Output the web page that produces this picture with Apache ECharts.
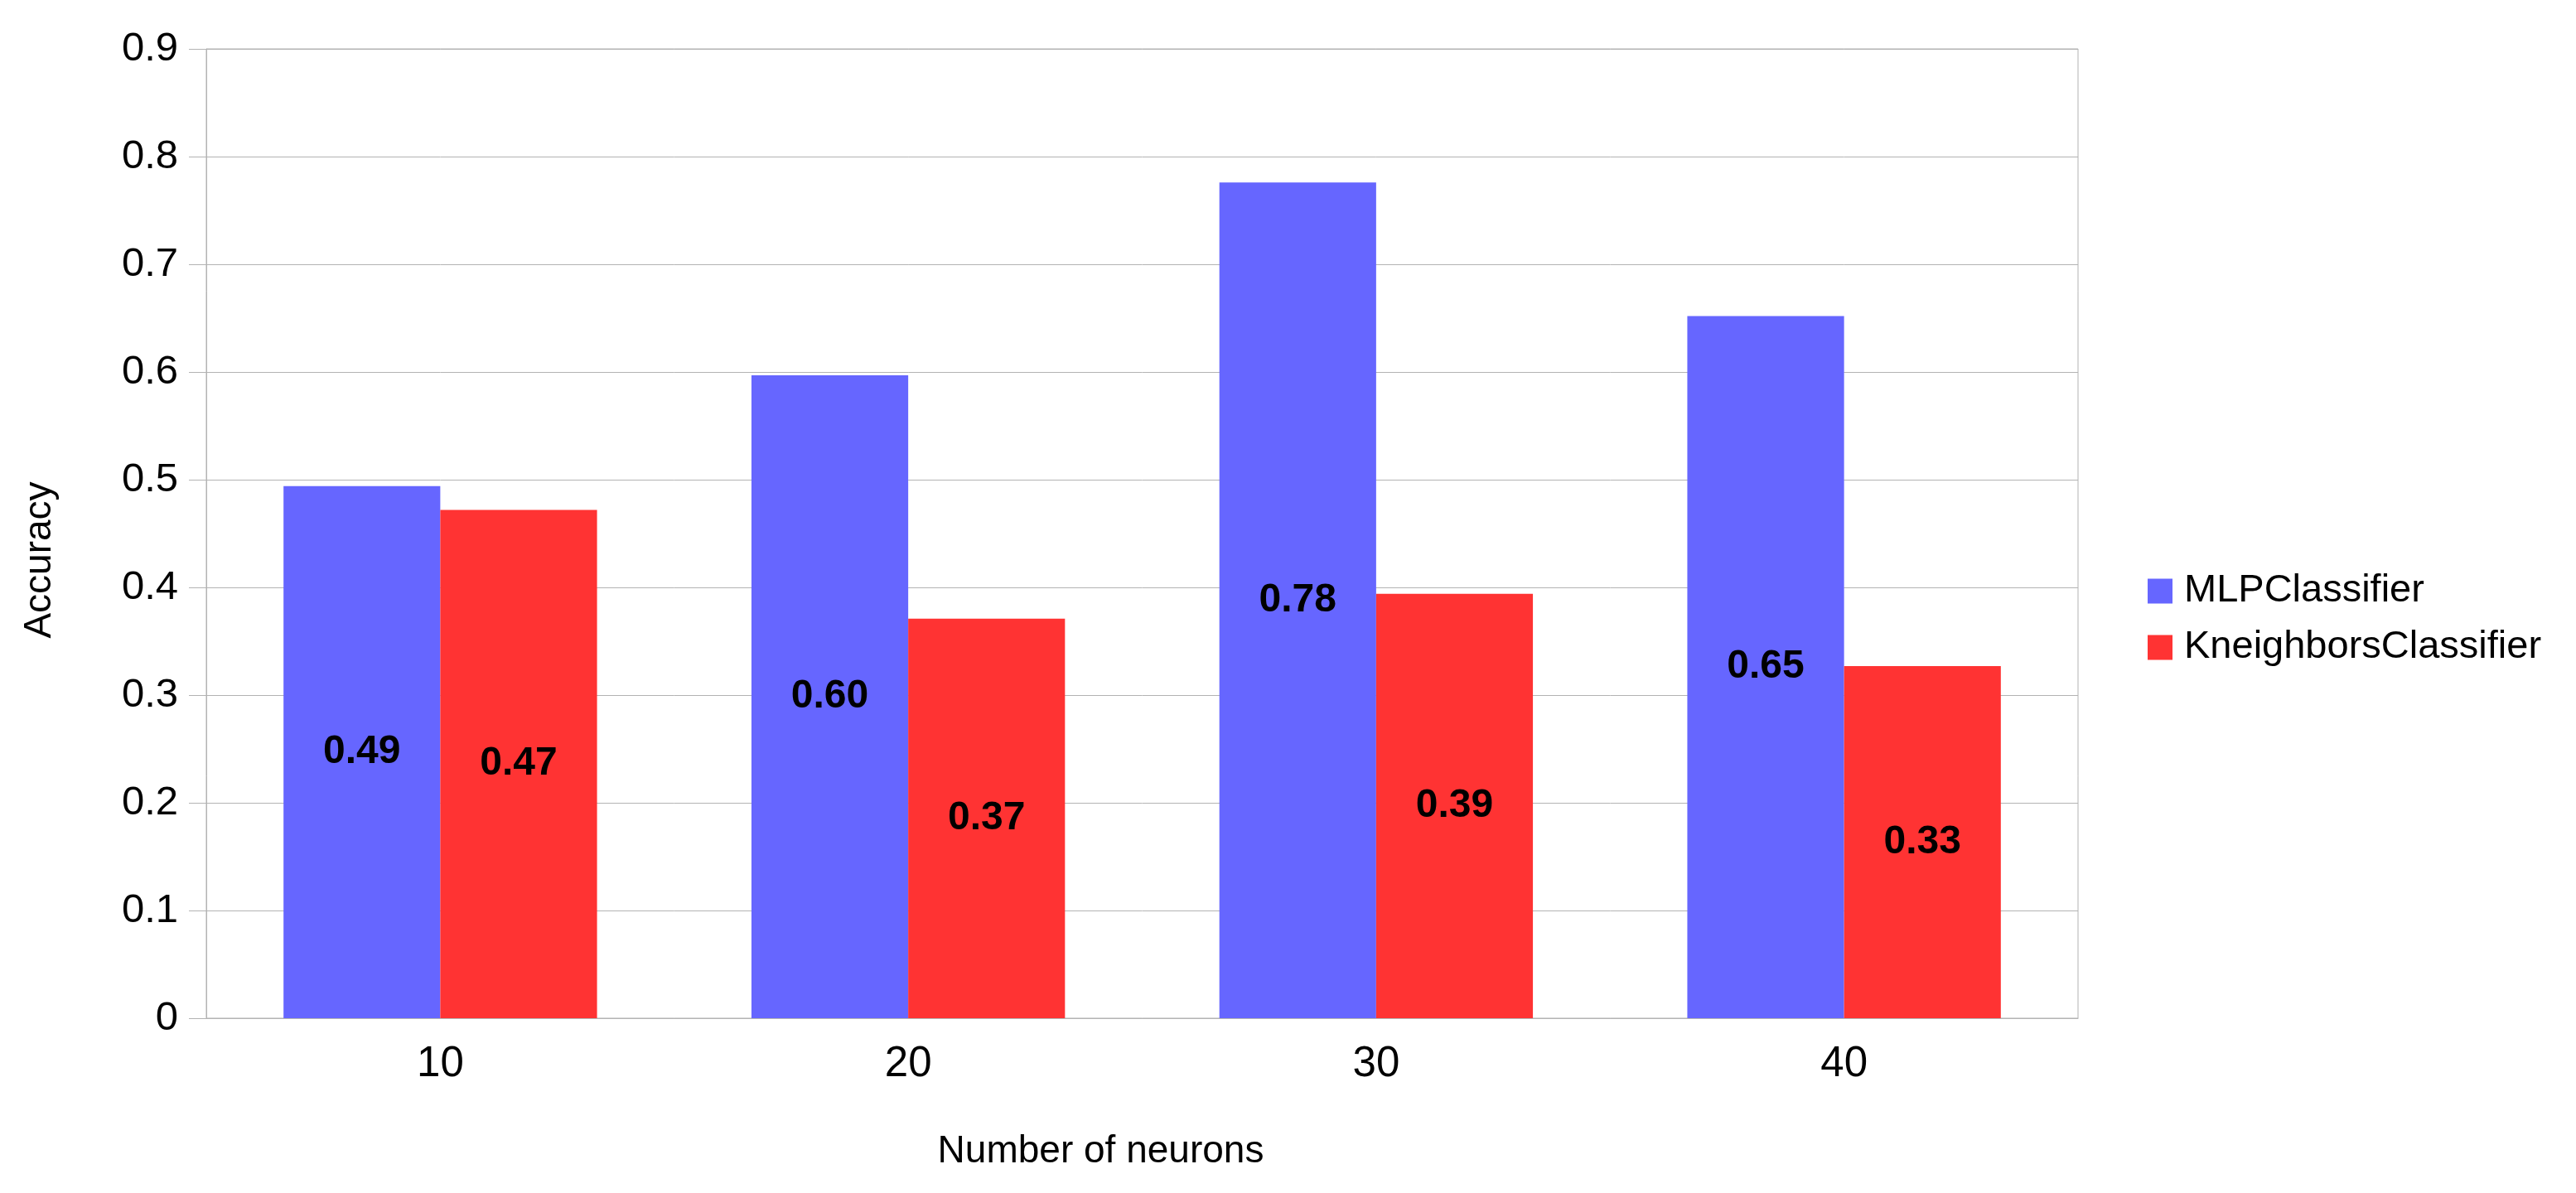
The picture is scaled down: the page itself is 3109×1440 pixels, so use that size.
<!DOCTYPE html>
<html>
<head>
<meta charset="utf-8">
<script src="https://cdn.jsdelivr.net/npm/echarts@6/dist/echarts.min.js"></script>
<style>
html, body {margin: 0; padding: 0; background: #fff;}
#myChart {width: 3109px; height: 1440px;}
</style>
</head>
<body>
<div id="myChart"></div>
<script>
// data
var neurons = ['10', '20', '30', '40'];
var mlpAcc = [0.494, 0.597, 0.776, 0.652];
var knnAcc = [0.472, 0.371, 0.394, 0.327];
var yTicks = [0, 0.1, 0.2, 0.3, 0.4, 0.5, 0.6, 0.7, 0.8, 0.9];

var font = 'Liberation Sans';
var gray = '#b3b3b3';

var barLabel = {
    show: true,
    position: 'inside',
    color: '#000',
    fontFamily: font,
    fontWeight: 'bold',
    fontSize: 48,
    formatter: function (p) { return p.value.toFixed(2); }
};

var options = {
    animation: false,
    grid: {
        left: 249, right: 601, top: 59, bottom: 211,
        show: true, borderColor: gray, borderWidth: 1
    },
    legend: {
        orient: 'vertical',
        left: 2587,
        top: 685,
        itemWidth: 30,
        itemHeight: 30,
        itemGap: 21,
        icon: 'rect',
        textStyle: {fontFamily: font, fontSize: 47, color: '#000', padding: [0, 0, 0, 9]},
        data: ['MLPClassifier', 'KneighborsClassifier']
    },
    xAxis: {
        type: 'category',
        data: neurons,
        name: 'Number of neurons',
        nameLocation: 'middle',
        nameGap: 138,
        nameTextStyle: {fontFamily: font, fontSize: 46, color: '#000', padding: [0, 100, 0, 0]},
        axisLine: {lineStyle: {color: gray}},
        axisTick: {length: 21, lineStyle: {color: gray}},
        axisLabel: {fontFamily: font, fontSize: 51, color: '#000', margin: 30},
        splitLine: {show: false}
    },
    yAxis: {
        type: 'value',
        min: yTicks[0],
        max: yTicks[yTicks.length - 1],
        interval: 0.1,
        name: 'Accuracy',
        nameLocation: 'middle',
        nameGap: 178,
        nameTextStyle: {fontFamily: font, fontSize: 46, color: '#000', padding: [0, 64, 0, 0]},
        axisLine: {show: true, lineStyle: {color: gray}},
        axisTick: {show: true, length: 21, lineStyle: {color: gray}},
        axisLabel: {fontFamily: font, fontSize: 49, color: '#000', margin: 34},
        splitLine: {lineStyle: {color: gray, width: 1}}
    },
    series: [{
        name: 'MLPClassifier',
        type: 'bar',
        data: mlpAcc,
        barGap: '0%',
        barCategoryGap: '33%',
        itemStyle: {color: '#6666ff'},
        label: barLabel
    }, {
        name: 'KneighborsClassifier',
        type: 'bar',
        data: knnAcc,
        itemStyle: {color: '#ff3333'},
        label: barLabel
    }]
};

var myChart = echarts.init(document.getElementById('myChart'));
myChart.setOption(options);
</script>
</body>
</html>
